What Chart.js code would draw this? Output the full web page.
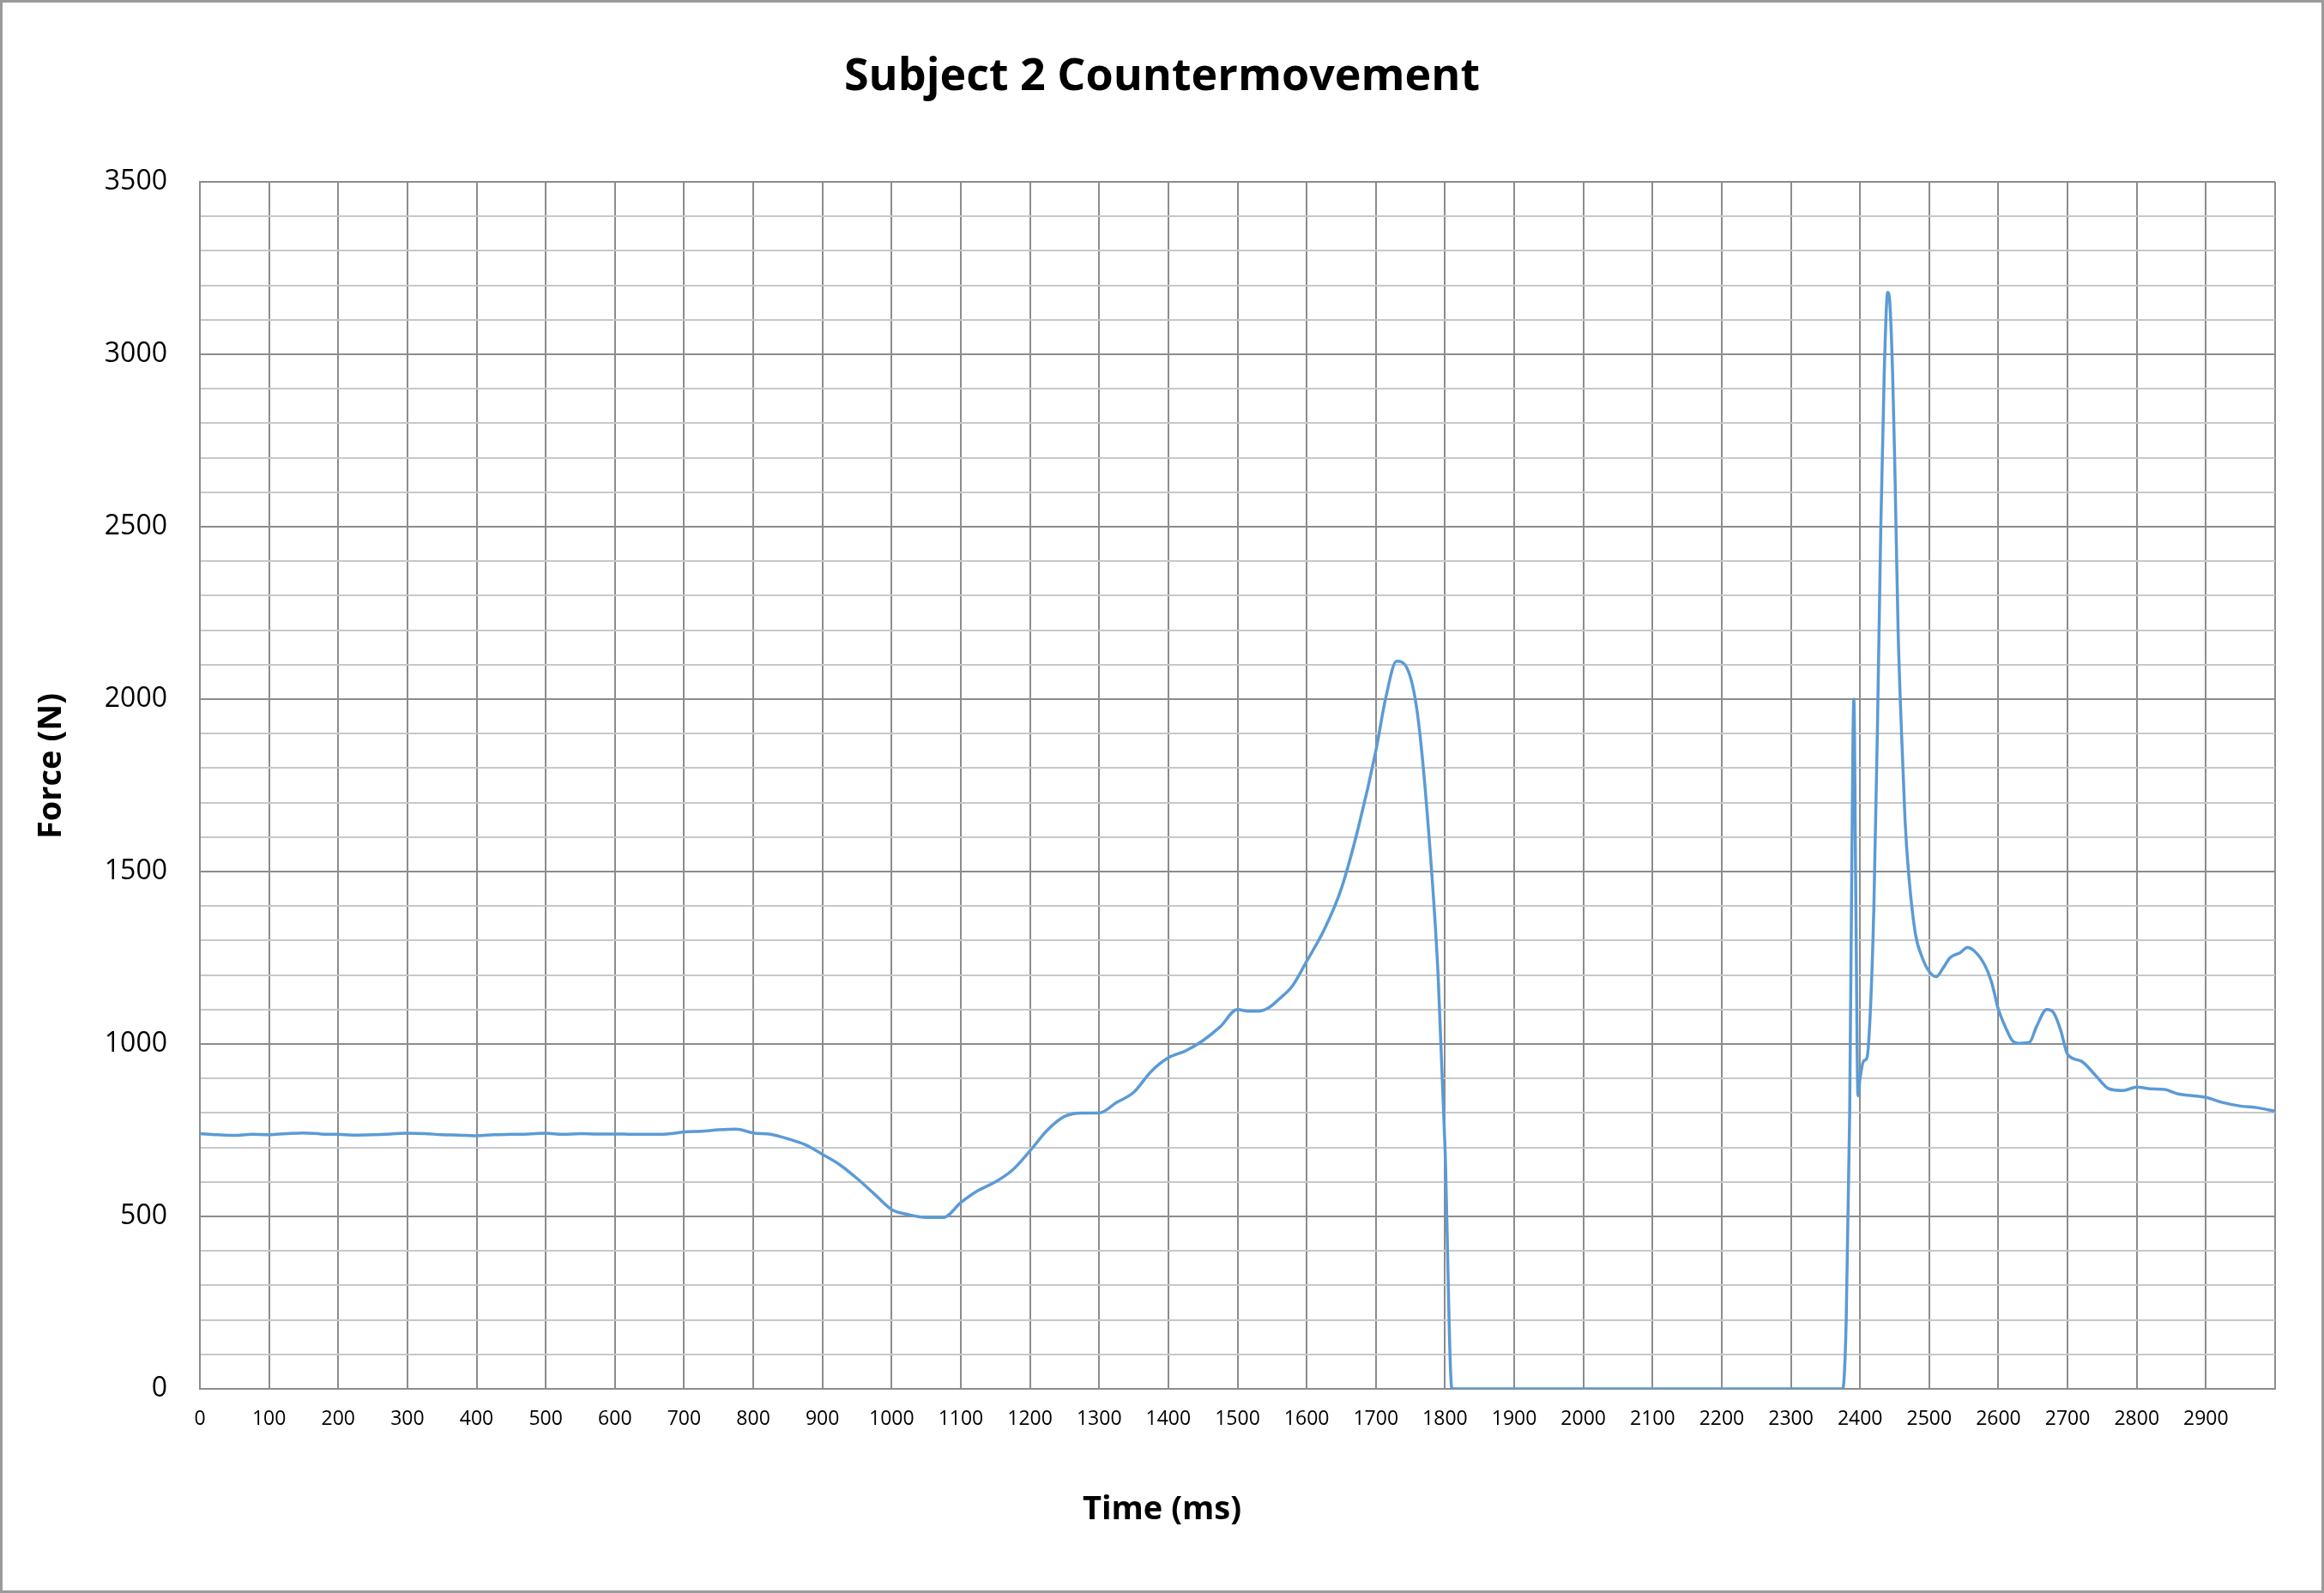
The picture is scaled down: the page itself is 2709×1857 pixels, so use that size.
<!DOCTYPE html>
<html><head><meta charset="utf-8">
<script src="https://cdn.jsdelivr.net/npm/chart.js@4"></script>
<style>html,body{margin:0;padding:0;background:#fff}#w{width:2709px;height:1857px}</style>
</head><body><div id="w"><canvas id="c"></canvas></div>
<script>
const timeMs = [0,25,50,75,100,125,150,175,200,225,250,275,300,325,350,375,400,425,450,475,500,525,550,575,600,625,650,675,700,725,750,775,800,825,850,875,900,925,950,975,1000,1025,1050,1075,1100,1125,1150,1175,1200,1225,1250,1275,1300,1325,1350,1375,1400,1425,1450,1475,1500,1515,1530,1545,1560,1580,1600,1625,1650,1675,1700,1715,1730,1745,1760,1775,1790,1800,1810,1900,2000,2100,2200,2300,2375,2380,2385,2388,2391,2394,2397,2400,2405,2410,2415,2420,2425,2430,2435,2440,2443,2447,2450,2455,2460,2465,2470,2480,2490,2500,2510,2520,2530,2545,2555,2565,2580,2590,2600,2610,2620,2630,2645,2655,2670,2680,2690,2700,2720,2740,2760,2780,2800,2820,2840,2860,2880,2900,2925,2950,2975,3000];
const forceN = [740,737,735,738,737,740,742,739,738,736,737,739,741,740,737,736,734,737,738,739,741,738,740,739,739,738,738,739,745,747,751,753,742,738,725,708,680,650,610,565,520,505,497,497,540,575,600,635,690,750,790,800,800,830,860,920,960,980,1010,1050,1100,1095,1095,1105,1130,1170,1240,1330,1450,1630,1850,2010,2110,2090,1960,1650,1200,700,0,0,0,0,0,0,0,200,800,1500,2000,1400,850,900,950,960,1100,1400,1900,2500,2950,3180,3150,2950,2700,2200,1900,1650,1500,1320,1250,1210,1195,1220,1250,1265,1280,1270,1230,1180,1100,1050,1010,1002,1005,1050,1100,1090,1040,970,950,910,870,865,875,870,868,855,850,845,830,820,815,805,800];
const chartTitle = "Subject 2 Countermovement";
const xTitle = "Time (ms)";
const yTitle = "Force (N)";

const pts = timeMs.map((t,i)=>({x:t,y:forceN[i]}));
const F = "'Open Sans','Liberation Sans',sans-serif";
const textPlugin = {id:'texts',afterDraw(ch){const c=ch.ctx;c.save();
  c.strokeStyle='#9a9a9a';c.lineWidth=3;c.strokeRect(1.5,1.5,ch.width-3,ch.height-3);
  c.fillStyle='#000';c.textAlign='center';c.textBaseline='middle';
  c.font="bold 52px "+F;c.fillText(chartTitle,ch.width/2,90);
  c.font="bold 38px "+F;c.fillText(xTitle,ch.width/2,1760);
  c.translate(60,893);c.rotate(-Math.PI/2);c.fillText(yTitle,0,0);
  c.restore();}};
new Chart(document.getElementById('c'),{
 type:'line',
 data:{datasets:[{data:pts,borderColor:'#5b9bd5',borderWidth:3.5,pointRadius:0,tension:0.3,cubicInterpolationMode:'monotone',fill:false}]},
 options:{responsive:true,maintainAspectRatio:false,animation:false,devicePixelRatio:1,
  layout:{padding:{left:0,right:57,top:212,bottom:0}},
  plugins:{legend:{display:false},tooltip:{enabled:false},title:{display:false}},
  scales:{
   x:{type:'linear',min:0,max:3000,
    ticks:{stepSize:100,color:'#000',font:{family:F,size:23},padding:22,maxRotation:0,autoSkip:false,callback:v=>v<3000?v:''},
    grid:{color:'#8c8c8c',lineWidth:2,drawTicks:false},border:{color:'#8c8c8c',width:2},
    afterFit(s){s.height=238;}},
   y:{min:0,max:3500,
    ticks:{stepSize:100,color:'#000',font:{family:F,size:32},padding:38,autoSkip:false,callback:v=>v%500===0?v:''},
    grid:{color:c=>c.tick&&c.tick.value%500===0?'#8c8c8c':'#c8c8c8',lineWidth:2,drawTicks:false},border:{color:'#8c8c8c',width:2},
    afterFit(s){s.width=233;}}
  }},
 plugins:[textPlugin]
});
</script></body></html>
